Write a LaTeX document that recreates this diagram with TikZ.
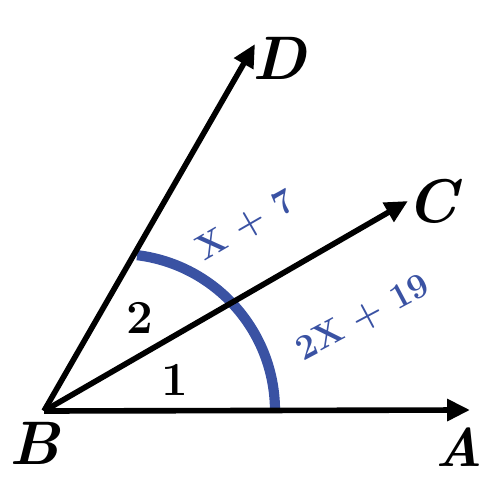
\documentclass[tikz,border=0pt]{standalone}
\usepackage{tikz}
\usetikzlibrary{arrows.meta}
\newcommand*{\unitpx}{0.02cm}
\newcommand*{\arcrad}{157}
\definecolor{arcblue}{RGB}{58,82,163}
\tikzset{
    ray/.style  = {line width=3.2pt, -{Triangle[length=13pt, width=12pt]}},
    pname/.style = {font=\fontsize{35}{40}\selectfont\bfseries\itshape},
    anum/.style  = {font=\fontsize{27}{32}\selectfont\bfseries},
    expr/.style  = {font=\fontsize{20}{24}\selectfont\bfseries, text=arcblue}
}

\begin{document}
\begin{tikzpicture}[x=\unitpx, y=\unitpx]
    \useasboundingbox (0,0) rectangle (500,500);
    \coordinate (B) at ( 44, 89);
    \coordinate (A) at (470, 90);
    \coordinate (C) at (408,299);
    \coordinate (D) at (255,456);
    % angle arc
    \draw [arcblue, line width=5.8pt] (118+\arcrad,89) arc [start angle=0, end angle=83, radius=\arcrad];
    % rays
        \draw [ray] (B) -- (A);
        \draw [ray] (B) -- (C);
        \draw [ray] (B) -- (D);
    % labels
        \node [pname] (lB) at ( 35, 57) {B};
        \node [pname, font=\fontsize{31}{36}\selectfont\bfseries\itshape] (lA) at (459, 53) {A};
        \node [pname] (lC) at (432,299) {C};
        \node [pname] (lD) at (279,442) {D};
        \node [anum] (n2) at (140,182) {2};
        \node [anum] (n1) at (175,120) {1};
        \node [expr, rotate=30] (e1) at (246,274) {X + 7};
        \node [expr, rotate=28] (e2) at (363,182) {2X + 19};
\end{tikzpicture}
\end{document}
